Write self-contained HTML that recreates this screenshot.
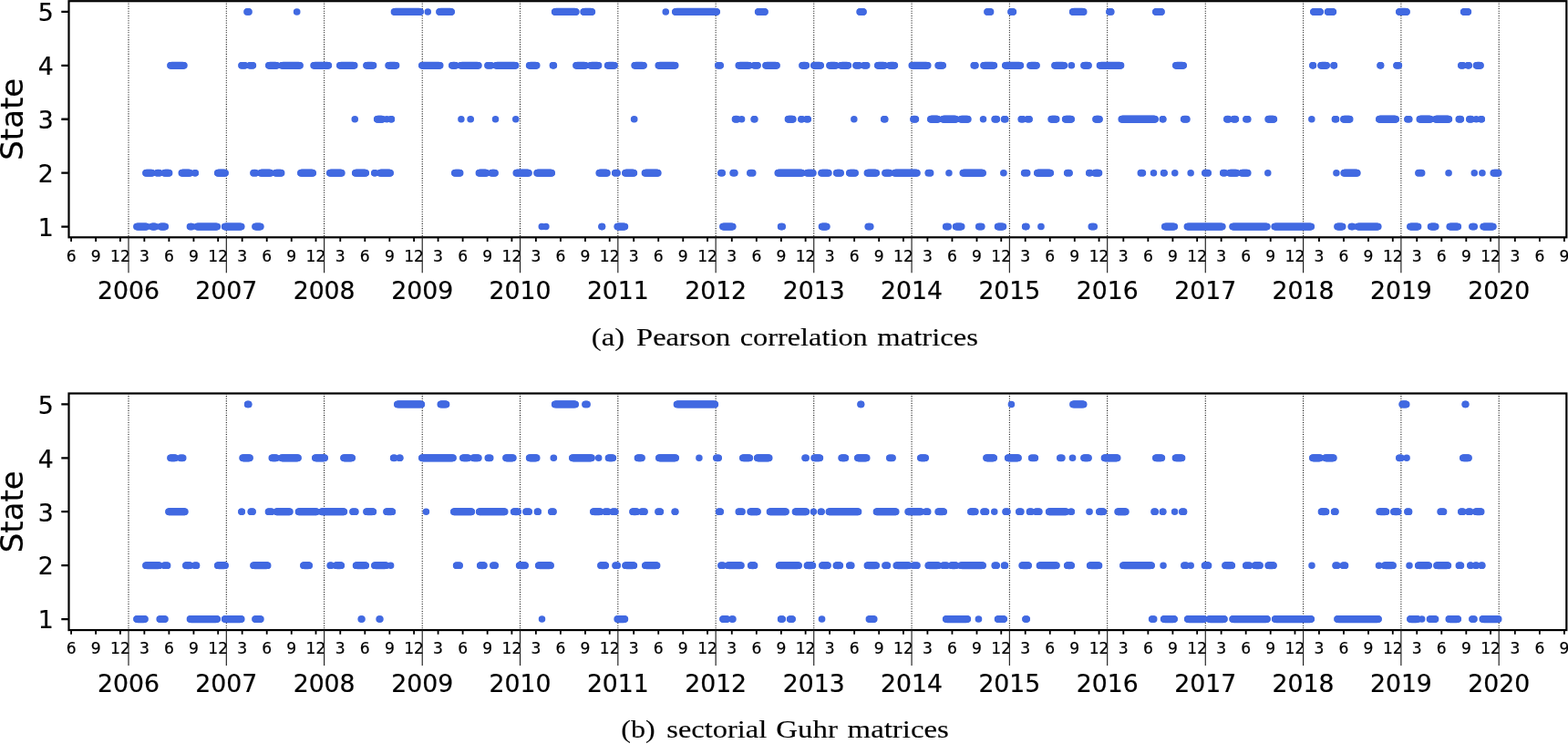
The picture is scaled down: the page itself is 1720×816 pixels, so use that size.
<!DOCTYPE html>
<html lang="en"><head><meta charset="utf-8"><title>State</title>
<style>
html,body{margin:0;padding:0;background:#fff;}
body{width:1720px;height:816px;overflow:hidden;}
svg{display:block;}
.s{font-family:"DejaVu Sans","Liberation Sans",sans-serif;fill:#000;stroke:#000;stroke-width:0.22px;stroke-linejoin:round;}
.c{font-family:"Liberation Serif","DejaVu Serif",serif;fill:#000;}
.yt{font-size:26.7px;text-anchor:end;}
.yr{font-size:26.7px;text-anchor:middle;}
.mo{font-size:17.1px;text-anchor:middle;}
.yl{font-size:34px;text-anchor:middle;}
.cap{font-size:28.2px;text-anchor:start;white-space:pre;stroke:#000;stroke-width:0.12px;}
.d{fill:none;stroke:#4169e1;stroke-linecap:round;}
.g{fill:none;stroke:#000;stroke-width:1.02;stroke-dasharray:1.05 1.57;}
.sp{fill:none;stroke:#000;stroke-width:2.2;}
.tk{fill:none;stroke:#000;stroke-width:2.3;}
.mt{fill:none;stroke:#000;stroke-width:1.8;}
.yk{fill:none;stroke:#1a1a1a;stroke-width:1.12;}
</style></head><body>
<svg width="1720" height="816" viewBox="0 0 1720 816">
<rect width="1720" height="816" fill="#fff"/>
<g>
<path class="g" d="M141 1.2V260.3M248.31 1.2V260.3M355.62 1.2V260.3M463.22 1.2V260.3M570.53 1.2V260.3M677.84 1.2V260.3M785.14 1.2V260.3M892.75 1.2V260.3M1000.06 1.2V260.3M1107.36 1.2V260.3M1214.67 1.2V260.3M1322.27 1.2V260.3M1429.58 1.2V260.3M1536.89 1.2V260.3M1644.2 1.2V260.3"/>
<path class="d" stroke-width="7.5" d="M271.07 12.95h1.86M325.57 12.95h0.2M432.4 12.95h28.83M469.27 12.95h0.01M481.9 12.95h13.37M608.57 12.95h23.33M640.1 12.95h9.33M730.23 12.95h0.04M740.73 12.95h45.54M831.57 12.95h7.53M943.07 12.95h4.03M1082.9 12.95h3.7M1108.9 12.95h2.53M1176.57 12.95h12.2M1216.9 12.95h1.87M1267.73 12.95h6.37M1440.73 12.95h7.5M1456.43 12.95h6M1534.73 12.95h8.37M1605.57 12.95h4.86"/>
<path class="d" stroke-width="7.7" d="M271.37 12.95h1.26M1217.2 12.95h1.27"/>
<path class="d" stroke-width="7.8" d="M832.17 12.95h6.33M943.67 12.95h2.83M1083.5 12.95h2.5M1109.5 12.95h1.33M1268.33 12.95h5.17M1441.33 12.95h6.3M1457.03 12.95h4.8M1606.17 12.95h3.66"/>
<path class="d" stroke-width="7.9" d="M433 12.95h27.63M482.5 12.95h12.17M609.17 12.95h22.13M640.7 12.95h8.13M741.33 12.95h44.34M1177.17 12.95h11M1535.33 12.95h7.17"/>
<path class="d" stroke-width="8.1" d="M833.17 12.95h4.33M944.67 12.95h0.83M1269.33 12.95h3.17M1442.33 12.95h4.3M1458.03 12.95h2.8M1607.17 12.95h1.66"/>
<path class="d" stroke-width="8.3" d="M434.1 12.95h25.43M483.6 12.95h9.97M610.27 12.95h19.93M641.8 12.95h5.93M742.43 12.95h42.14M1178.27 12.95h8.8M1536.43 12.95h4.97"/>
<path class="d" stroke-width="7.5" d="M186.9 71.86h15.03M264.9 71.86h3.73M274.03 71.86h3.4M294.73 71.86h8.9M309.03 71.86h20.07M344.07 71.86h16.36M372.73 71.86h16.04M401.9 71.86h7.7M426.07 71.86h8.53M462.73 71.86h20.04M495.73 71.86h4.24M505.37 71.86h19.56M534.9 71.86h3.73M544.03 71.86h21.74M580.57 71.86h8.2M606.4 71.86h1.03M631.9 71.86h10.4M647.7 71.86h8.9M666.57 71.86h7.53M696.1 71.86h10M722.23 71.86h18.54M787.73 71.86h2.54M810.23 71.86h11.74M827.37 71.86h3.73M839.9 71.86h12.2M879.9 71.86h4.53M892.73 71.86h7.54M909.9 71.86h7.07M922.37 71.86h8.06M938.9 71.86h3.4M947.7 71.86h3.07M962.7 71.86h7.6M975.7 71.86h5.7M1000.23 71.86h17.54M1029.07 71.86h5.2M1068.23 71.86h1.7M1078.9 71.86h11.53M1102.73 71.86h16.7M1129.9 71.86h7.2M1156.9 71.86h10.53M1175.23 71.86h0.2M1188.9 71.86h5.2M1206.4 71.86h23.2M1289.73 71.86h8.54M1439.9 71.86h0.53M1448.9 71.86h6.37M1463.07 71.86h0.36M1514.07 71.86h0.53M1531.9 71.86h2.53M1602.73 71.86h2.07M1610.2 71.86h1.03M1619.43 71.86h4.67"/>
<path class="d" stroke-width="7.6" d="M1440 71.86h0.33M1463.17 71.86h0.16M1514.17 71.86h0.33"/>
<path class="d" stroke-width="7.7" d="M606.7 71.86h0.43M1068.53 71.86h1.1M1610.5 71.86h0.43"/>
<path class="d" stroke-width="7.8" d="M265.5 71.86h2.53M274.63 71.86h2.2M402.5 71.86h6.5M496.33 71.86h3.04M535.5 71.86h2.53M667.17 71.86h6.33M788.33 71.86h1.34M827.97 71.86h2.53M880.5 71.86h3.33M893.33 71.86h6.34M910.5 71.86h5.87M939.5 71.86h2.2M948.3 71.86h1.87M963.3 71.86h6.4M976.3 71.86h4.5M1029.67 71.86h4M1130.5 71.86h6M1189.5 71.86h4M1449.5 71.86h5.17M1532.5 71.86h1.33M1603.33 71.86h0.87M1620.03 71.86h3.47"/>
<path class="d" stroke-width="7.9" d="M187.5 71.86h13.83M295.33 71.86h7.7M309.63 71.86h18.87M344.67 71.86h15.16M373.33 71.86h14.84M426.67 71.86h7.33M463.33 71.86h18.84M505.97 71.86h18.36M544.63 71.86h20.54M581.17 71.86h7M632.5 71.86h9.2M648.3 71.86h7.7M696.7 71.86h8.8M722.83 71.86h17.34M810.83 71.86h10.54M840.5 71.86h11M922.97 71.86h6.86M1000.83 71.86h16.34M1079.5 71.86h10.33M1103.33 71.86h15.5M1157.5 71.86h9.33M1207 71.86h22M1290.33 71.86h7.34"/>
<path class="d" stroke-width="8.1" d="M403.5 71.86h4.5M497.33 71.86h1.04M668.17 71.86h4.33M881.5 71.86h1.33M894.33 71.86h4.34M911.5 71.86h3.87M964.3 71.86h4.4M977.3 71.86h2.5M1030.67 71.86h2M1131.5 71.86h4M1190.5 71.86h2M1450.5 71.86h3.17M1621.03 71.86h1.47"/>
<path class="d" stroke-width="8.3" d="M188.6 71.86h11.63M296.43 71.86h5.5M310.73 71.86h16.67M345.77 71.86h12.96M374.43 71.86h12.64M427.77 71.86h5.13M464.43 71.86h16.64M507.07 71.86h16.16M545.73 71.86h18.34M582.27 71.86h4.8M633.6 71.86h7M649.4 71.86h5.5M697.8 71.86h6.6M723.93 71.86h15.14M811.93 71.86h8.34M841.6 71.86h8.8M924.07 71.86h4.66M1001.93 71.86h14.14M1080.6 71.86h8.13M1104.43 71.86h13.3M1158.6 71.86h7.13M1208.1 71.86h19.8M1291.43 71.86h5.14"/>
<path class="d" stroke-width="7.5" d="M389.23 130.77h0.04M413.6 130.77h5.9M424.25 130.77h0.01M429 130.77h0.4M505.92 130.77h0.01M516.07 130.77h0.2M543.5 130.77h0.01M565.73 130.77h0.04M695.57 130.77h0.2M806.4 130.77h2.23M813.57 130.77h0.01M827.23 130.77h0.54M864.4 130.77h5.53M878.9 130.77h0.57M884.87 130.77h1.4M936.83 130.77h0.01M969.73 130.77h1.04M1001.9 130.77h2.53M1020.73 130.77h8.24M1034.37 130.77h14.26M1054.03 130.77h7.9M1078.5 130.77h0.01M1091.07 130.77h2.36M1101.57 130.77h1.2M1120.23 130.77h1.74M1127.37 130.77h1.73M1153.07 130.77h5.7M1168.57 130.77h6.7M1201.9 130.77h4.2M1230.2 130.77h37M1275.4 130.77h0.4M1298.57 130.77h3.36M1345.73 130.77h2.07M1353.2 130.77h2.23M1366.9 130.77h1.87M1391.07 130.77h6.36M1438.83 130.77h0.01M1464.4 130.77h1.17M1473.77 130.77h7M1512.73 130.77h18.54M1543.9 130.77h1.87M1557.23 130.77h12.07M1574.7 130.77h14.73M1600.23 130.77h2.2M1611.73 130.77h2.24M1619.33 130.77h0.01M1624.7 130.77h0.57"/>
<path class="d" stroke-width="7.6" d="M429.1 130.77h0.2M827.33 130.77h0.34M879 130.77h0.37M1275.5 130.77h0.2M1624.8 130.77h0.37"/>
<path class="d" stroke-width="7.7" d="M885.17 130.77h0.8M970.03 130.77h0.44M1101.87 130.77h0.6M1120.53 130.77h1.14M1127.67 130.77h1.13M1367.2 130.77h1.27M1464.7 130.77h0.57M1544.2 130.77h1.27"/>
<path class="d" stroke-width="7.8" d="M414.2 130.77h4.7M807 130.77h1.03M865 130.77h4.33M1002.5 130.77h1.33M1054.63 130.77h6.7M1091.67 130.77h1.16M1153.67 130.77h4.5M1169.17 130.77h5.5M1202.5 130.77h3M1299.17 130.77h2.16M1346.33 130.77h0.87M1353.8 130.77h1.03M1391.67 130.77h5.16M1474.37 130.77h5.8M1600.83 130.77h1M1612.33 130.77h1.04"/>
<path class="d" stroke-width="7.9" d="M1021.33 130.77h7.04M1034.97 130.77h13.06M1230.8 130.77h35.8M1513.33 130.77h17.34M1557.83 130.77h10.87M1575.3 130.77h13.53"/>
<path class="d" stroke-width="8.1" d="M415.2 130.77h2.7M866 130.77h2.33M1055.63 130.77h4.7M1154.67 130.77h2.5M1170.17 130.77h3.5M1203.5 130.77h1M1392.67 130.77h3.16M1475.37 130.77h3.8"/>
<path class="d" stroke-width="8.3" d="M1022.43 130.77h4.84M1036.07 130.77h10.86M1231.9 130.77h33.6M1514.43 130.77h15.14M1558.93 130.77h8.67M1576.4 130.77h11.33"/>
<path class="d" stroke-width="7.5" d="M159.86 189.69h7.03M172.29 189.69h2.58M180.27 189.69h5.38M199.27 189.69h9.19M213.86 189.69h0.39M238.67 189.69h8.5M277.92 189.69h2.54M285.86 189.69h11.06M302.32 189.69h6.37M329.79 189.69h13.49M361.72 189.69h13.15M389.66 189.69h11.65M410.8 189.69h0.5M416.7 189.69h11.5M498.72 189.69h6M525.33 189.69h8.36M539.09 189.69h4.04M566.23 189.69h13.82M589.01 189.69h16.31M657.18 189.69h8.83M674.64 189.69h2.51M685.78 189.69h9.66M707.39 189.69h14.48M790.86 189.69h1.34M804.16 189.69h1.68M822.78 189.69h3.01M853.21 189.69h26.66M885.27 189.69h6.7M900.94 189.69h7.99M917.56 189.69h4.67M931.7 189.69h6.5M951.32 189.69h9.99M970.9 189.69h5.1M981.4 189.69h24.6M1018.15 189.69h2.51M1040.93 189.69h0.01M1056.23 189.69h21.96M1100.79 189.69h0.18M1123.57 189.69h3.17M1137.7 189.69h14.65M1170.63 189.69h2.51M1194.74 189.69h0.88M1201.02 189.69h4.54M1251.27 189.69h2.18M1265.48 189.69h0.01M1276.53 189.69h0.52M1288.76 189.69h0.01M1306.14 189.69h0.01M1321.76 189.69h3.51M1341.71 189.69h1.72M1348.83 189.69h7.9M1362.13 189.69h6.7M1390.77 189.69h0.01M1465.91 189.69h0.01M1474.11 189.69h14.78M1555.88 189.69h3.82M1589.02 189.69h0.1M1617.27 189.69h0.01M1625.88 189.69h0.1M1638.2 189.69h5.57"/>
<path class="d" stroke-width="7.6" d="M213.96 189.69h0.19M410.9 189.69h0.3M1276.63 189.69h0.32"/>
<path class="d" stroke-width="7.7" d="M791.16 189.69h0.74M804.46 189.69h1.08M1195.04 189.69h0.28M1342.01 189.69h1.12"/>
<path class="d" stroke-width="7.8" d="M160.46 189.69h5.83M172.89 189.69h1.38M180.87 189.69h4.18M278.52 189.69h1.34M302.92 189.69h5.17M499.32 189.69h4.8M539.69 189.69h2.84M675.24 189.69h1.31M823.38 189.69h1.81M885.87 189.69h5.5M901.54 189.69h6.79M918.16 189.69h3.47M932.3 189.69h5.3M971.5 189.69h3.9M1018.75 189.69h1.31M1124.17 189.69h1.97M1171.23 189.69h1.31M1201.62 189.69h3.34M1251.87 189.69h0.98M1322.36 189.69h2.31M1349.43 189.69h6.7M1362.73 189.69h5.5M1556.48 189.69h2.62M1638.8 189.69h4.37"/>
<path class="d" stroke-width="7.9" d="M199.87 189.69h7.99M239.27 189.69h7.3M286.46 189.69h9.86M330.39 189.69h12.29M362.32 189.69h11.95M390.26 189.69h10.45M417.3 189.69h10.3M525.93 189.69h7.16M566.83 189.69h12.62M589.61 189.69h15.11M657.78 189.69h7.63M686.38 189.69h8.46M707.99 189.69h13.28M853.81 189.69h25.46M951.92 189.69h8.79M982 189.69h23.4M1056.83 189.69h20.76M1138.3 189.69h13.45M1474.71 189.69h13.58"/>
<path class="d" stroke-width="8.1" d="M161.46 189.69h3.83M181.87 189.69h2.18M303.92 189.69h3.17M500.32 189.69h2.8M540.69 189.69h0.84M886.87 189.69h3.5M902.54 189.69h4.79M919.16 189.69h1.47M933.3 189.69h3.3M972.5 189.69h1.9M1202.62 189.69h1.34M1350.43 189.69h4.7M1363.73 189.69h3.5M1639.8 189.69h2.37"/>
<path class="d" stroke-width="8.3" d="M200.97 189.69h5.79M240.37 189.69h5.1M287.56 189.69h7.66M331.49 189.69h10.09M363.42 189.69h9.75M391.36 189.69h8.25M418.4 189.69h8.1M527.03 189.69h4.96M567.93 189.69h10.42M590.71 189.69h12.91M658.88 189.69h5.43M687.48 189.69h6.26M709.09 189.69h11.08M854.91 189.69h23.26M953.02 189.69h6.59M983.1 189.69h21.2M1057.93 189.69h18.56M1139.4 189.69h11.25M1475.81 189.69h11.38"/>
<path class="d" stroke-width="7.5" d="M149.88 248.6h11.19M166.47 248.6h4.08M175.95 248.6h5.37M208.41 248.6h2.05M215.86 248.6h22.46M246.52 248.6h18.28M279.91 248.6h6M594.27 248.6h0.01M598.89 248.6h0.01M660.01 248.6h0.52M677.14 248.6h8.33M792.85 248.6h10.99M856.54 248.6h1.68M901.43 248.6h5.51M952.15 248.6h2.67M1037.6 248.6h2.65M1048.45 248.6h6.3M1073.69 248.6h3.17M1094.47 248.6h6M1124.57 248.6h1.34M1141.86 248.6h0.18M1197.23 248.6h3.01M1277.7 248.6h10.65M1302.31 248.6h38.59M1352.02 248.6h37.9M1398.12 248.6h40.22M1466.92 248.6h5.84M1482.22 248.6h1.71M1489.33 248.6h22.5M1546.81 248.6h8.82M1569.48 248.6h5.34M1590.18 248.6h9.18M1614.83 248.6h2.43M1627.04 248.6h10.92"/>
<path class="d" stroke-width="7.6" d="M660.11 248.6h0.32"/>
<path class="d" stroke-width="7.7" d="M856.84 248.6h1.08M1124.87 248.6h0.74M1482.52 248.6h1.11"/>
<path class="d" stroke-width="7.8" d="M167.07 248.6h2.88M176.55 248.6h4.17M209.01 248.6h0.85M280.51 248.6h4.8M902.03 248.6h4.31M952.75 248.6h1.47M1038.2 248.6h1.45M1049.05 248.6h5.1M1074.29 248.6h1.97M1095.07 248.6h4.8M1197.83 248.6h1.81M1467.52 248.6h4.64M1570.08 248.6h4.14M1615.43 248.6h1.23"/>
<path class="d" stroke-width="7.9" d="M150.48 248.6h9.99M216.46 248.6h21.26M247.12 248.6h17.08M677.74 248.6h7.13M793.45 248.6h9.79M1278.3 248.6h9.45M1302.91 248.6h37.39M1352.62 248.6h36.7M1398.72 248.6h39.02M1489.93 248.6h21.3M1547.41 248.6h7.62M1590.78 248.6h7.98M1627.64 248.6h9.72"/>
<path class="d" stroke-width="8.1" d="M168.07 248.6h0.88M177.55 248.6h2.17M281.51 248.6h2.8M903.03 248.6h2.31M1050.05 248.6h3.1M1096.07 248.6h2.8M1468.52 248.6h2.64M1571.08 248.6h2.14"/>
<path class="d" stroke-width="8.3" d="M151.58 248.6h7.79M217.56 248.6h19.06M248.22 248.6h14.88M678.84 248.6h4.93M794.55 248.6h7.59M1279.4 248.6h7.25M1304.01 248.6h35.19M1353.72 248.6h34.5M1399.82 248.6h36.82M1491.03 248.6h19.1M1548.51 248.6h5.42M1591.88 248.6h5.78M1628.74 248.6h7.52"/>
<rect class="sp" x="75.5" y="1.2" width="1642.85" height="259.1"/>
<text class="s yt" x="58.65" y="258.9">1</text>
<text class="s yt" x="58.65" y="199.99">2</text>
<text class="s yt" x="58.65" y="141.07">3</text>
<text class="s yt" x="58.65" y="82.16">4</text>
<text class="s yt" x="58.65" y="23.25">5</text>
<path class="tk" d="M67.3 248.6H75.5M67.3 189.69H75.5M67.3 130.77H75.5M67.3 71.86H75.5M67.3 12.95H75.5"/>
<text class="s mo" x="78.08" y="286.5">6</text>
<text class="s mo" x="105.13" y="286.5">9</text>
<text class="s mo" x="131.89" y="286.5">12</text>
<text class="s mo" x="158.35" y="286.5">3</text>
<text class="s mo" x="185.39" y="286.5">6</text>
<text class="s mo" x="212.44" y="286.5">9</text>
<text class="s mo" x="239.19" y="286.5">12</text>
<text class="s mo" x="265.65" y="286.5">3</text>
<text class="s mo" x="292.7" y="286.5">6</text>
<text class="s mo" x="319.75" y="286.5">9</text>
<text class="s mo" x="346.5" y="286.5">12</text>
<text class="s mo" x="373.26" y="286.5">3</text>
<text class="s mo" x="400.3" y="286.5">6</text>
<text class="s mo" x="427.35" y="286.5">9</text>
<text class="s mo" x="454.11" y="286.5">12</text>
<text class="s mo" x="480.57" y="286.5">3</text>
<text class="s mo" x="507.61" y="286.5">6</text>
<text class="s mo" x="534.66" y="286.5">9</text>
<text class="s mo" x="561.41" y="286.5">12</text>
<text class="s mo" x="587.87" y="286.5">3</text>
<text class="s mo" x="614.92" y="286.5">6</text>
<text class="s mo" x="641.97" y="286.5">9</text>
<text class="s mo" x="668.72" y="286.5">12</text>
<text class="s mo" x="695.18" y="286.5">3</text>
<text class="s mo" x="722.23" y="286.5">6</text>
<text class="s mo" x="749.28" y="286.5">9</text>
<text class="s mo" x="776.03" y="286.5">12</text>
<text class="s mo" x="802.78" y="286.5">3</text>
<text class="s mo" x="829.83" y="286.5">6</text>
<text class="s mo" x="856.88" y="286.5">9</text>
<text class="s mo" x="883.63" y="286.5">12</text>
<text class="s mo" x="910.09" y="286.5">3</text>
<text class="s mo" x="937.14" y="286.5">6</text>
<text class="s mo" x="964.19" y="286.5">9</text>
<text class="s mo" x="990.94" y="286.5">12</text>
<text class="s mo" x="1017.4" y="286.5">3</text>
<text class="s mo" x="1044.45" y="286.5">6</text>
<text class="s mo" x="1071.5" y="286.5">9</text>
<text class="s mo" x="1098.25" y="286.5">12</text>
<text class="s mo" x="1124.71" y="286.5">3</text>
<text class="s mo" x="1151.76" y="286.5">6</text>
<text class="s mo" x="1178.8" y="286.5">9</text>
<text class="s mo" x="1205.56" y="286.5">12</text>
<text class="s mo" x="1232.31" y="286.5">3</text>
<text class="s mo" x="1259.36" y="286.5">6</text>
<text class="s mo" x="1286.41" y="286.5">9</text>
<text class="s mo" x="1313.16" y="286.5">12</text>
<text class="s mo" x="1339.62" y="286.5">3</text>
<text class="s mo" x="1366.67" y="286.5">6</text>
<text class="s mo" x="1393.72" y="286.5">9</text>
<text class="s mo" x="1420.47" y="286.5">12</text>
<text class="s mo" x="1446.93" y="286.5">3</text>
<text class="s mo" x="1473.98" y="286.5">6</text>
<text class="s mo" x="1501.02" y="286.5">9</text>
<text class="s mo" x="1527.78" y="286.5">12</text>
<text class="s mo" x="1554.24" y="286.5">3</text>
<text class="s mo" x="1581.28" y="286.5">6</text>
<text class="s mo" x="1608.33" y="286.5">9</text>
<text class="s mo" x="1635.09" y="286.5">12</text>
<text class="s mo" x="1661.84" y="286.5">3</text>
<text class="s mo" x="1688.89" y="286.5">6</text>
<text class="s mo" x="1715.93" y="286.5">9</text>
<path class="mt" d="M78.08 260.3V265.1M105.13 260.3V265.1M131.89 260.3V265.1M158.35 260.3V265.1M185.39 260.3V265.1M212.44 260.3V265.1M239.19 260.3V265.1M265.65 260.3V265.1M292.7 260.3V265.1M319.75 260.3V265.1M346.5 260.3V265.1M373.26 260.3V265.1M400.3 260.3V265.1M427.35 260.3V265.1M454.11 260.3V265.1M480.57 260.3V265.1M507.61 260.3V265.1M534.66 260.3V265.1M561.41 260.3V265.1M587.87 260.3V265.1M614.92 260.3V265.1M641.97 260.3V265.1M668.72 260.3V265.1M695.18 260.3V265.1M722.23 260.3V265.1M749.28 260.3V265.1M776.03 260.3V265.1M802.78 260.3V265.1M829.83 260.3V265.1M856.88 260.3V265.1M883.63 260.3V265.1M910.09 260.3V265.1M937.14 260.3V265.1M964.19 260.3V265.1M990.94 260.3V265.1M1017.4 260.3V265.1M1044.45 260.3V265.1M1071.5 260.3V265.1M1098.25 260.3V265.1M1124.71 260.3V265.1M1151.76 260.3V265.1M1178.8 260.3V265.1M1205.56 260.3V265.1M1232.31 260.3V265.1M1259.36 260.3V265.1M1286.41 260.3V265.1M1313.16 260.3V265.1M1339.62 260.3V265.1M1366.67 260.3V265.1M1393.72 260.3V265.1M1420.47 260.3V265.1M1446.93 260.3V265.1M1473.98 260.3V265.1M1501.02 260.3V265.1M1527.78 260.3V265.1M1554.24 260.3V265.1M1581.28 260.3V265.1M1608.33 260.3V265.1M1635.09 260.3V265.1M1661.84 260.3V265.1M1688.89 260.3V265.1M1715.93 260.3V265.1"/>
<text class="s yr" x="141" y="328.2">2006</text>
<text class="s yr" x="248.31" y="328.2">2007</text>
<text class="s yr" x="355.62" y="328.2">2008</text>
<text class="s yr" x="463.22" y="328.2">2009</text>
<text class="s yr" x="570.53" y="328.2">2010</text>
<text class="s yr" x="677.84" y="328.2">2011</text>
<text class="s yr" x="785.14" y="328.2">2012</text>
<text class="s yr" x="892.75" y="328.2">2013</text>
<text class="s yr" x="1000.06" y="328.2">2014</text>
<text class="s yr" x="1107.36" y="328.2">2015</text>
<text class="s yr" x="1214.67" y="328.2">2016</text>
<text class="s yr" x="1322.27" y="328.2">2017</text>
<text class="s yr" x="1429.58" y="328.2">2018</text>
<text class="s yr" x="1536.89" y="328.2">2019</text>
<text class="s yr" x="1644.2" y="328.2">2020</text>
<path class="yk" d="M141 260.3V299.3M248.31 260.3V299.3M355.62 260.3V299.3M463.22 260.3V299.3M570.53 260.3V299.3M677.84 260.3V299.3M785.14 260.3V299.3M892.75 260.3V299.3M1000.06 260.3V299.3M1107.36 260.3V299.3M1214.67 260.3V299.3M1322.27 260.3V299.3M1429.58 260.3V299.3M1536.89 260.3V299.3M1644.2 260.3V299.3"/>
<text class="s yl" transform="translate(25.4,130.78) rotate(-90)">State</text>
</g>
<text class="c cap" y="378.5"><tspan x="648.8" textLength="36.4" lengthAdjust="spacingAndGlyphs">(a)</tspan> <tspan x="698" textLength="103.3" lengthAdjust="spacingAndGlyphs">Pearson</tspan> <tspan x="811.7" textLength="140.1" lengthAdjust="spacingAndGlyphs">correlation</tspan> <tspan x="962.3" textLength="110.6" lengthAdjust="spacingAndGlyphs">matrices</tspan></text>
<g>
<path class="g" d="M141 431.5V691.05M248.31 431.5V691.05M355.62 431.5V691.05M463.22 431.5V691.05M570.53 431.5V691.05M677.84 431.5V691.05M785.14 431.5V691.05M892.75 431.5V691.05M1000.06 431.5V691.05M1107.36 431.5V691.05M1214.67 431.5V691.05M1322.27 431.5V691.05M1429.58 431.5V691.05M1536.89 431.5V691.05M1644.2 431.5V691.05"/>
<path class="d" stroke-width="7.5" d="M271.57 443.4h1.2M435.73 443.4h26.7M483.23 443.4h6.37M608.57 443.4h22.7M641.9 443.4h2.2M742.4 443.4h42.03M944.07 443.4h0.53M1109.4 443.4h0.03M1176.9 443.4h11.87M1538.07 443.4h4.7M1607.23 443.4h0.54"/>
<path class="d" stroke-width="7.6" d="M944.17 443.4h0.33M1607.33 443.4h0.34"/>
<path class="d" stroke-width="7.7" d="M271.87 443.4h0.6"/>
<path class="d" stroke-width="7.8" d="M483.83 443.4h5.17M642.5 443.4h1M1538.67 443.4h3.5"/>
<path class="d" stroke-width="7.9" d="M436.33 443.4h25.5M609.17 443.4h21.5M743 443.4h40.83M1177.5 443.4h10.67"/>
<path class="d" stroke-width="8.1" d="M484.83 443.4h3.17M1539.67 443.4h1.5"/>
<path class="d" stroke-width="8.3" d="M437.43 443.4h23.3M610.27 443.4h19.3M744.1 443.4h38.63M1178.6 443.4h8.47"/>
<path class="d" stroke-width="7.5" d="M186.9 502.31h5.57M197.87 502.31h2.9M266.07 502.31h8.03M298.23 502.31h5.07M308.7 502.31h18.4M345.73 502.31h10.54M376.9 502.31h9.37M431.57 502.31h1.23M438.2 502.31h0.57M462.73 502.31h34.37M507.73 502.31h5.9M519.03 502.31h5.9M535.23 502.31h2.54M554.9 502.31h8.03M580.57 502.31h8.2M607.23 502.31h0.2M627.73 502.31h21.34M656.68 502.31h0.01M667.4 502.31h5.03M699.4 502.31h4.7M722.73 502.31h18.54M766.9 502.31h0.03M785.73 502.31h2.54M814.73 502.31h7.67M830.6 502.31h13.17M883.07 502.31h1.03M893.07 502.31h6.36M923.07 502.31h4.36M940.73 502.31h10.04M975.73 502.31h3.37M1009.73 502.31h5.54M1081.9 502.31h8.37M1105.57 502.31h11.53M1131.57 502.31h3.86M1162.73 502.31h2.2M1176.4 502.31h0.2M1188.9 502.31h5.2M1211.4 502.31h14.37M1267.73 502.31h6.7M1289.4 502.31h7.2M1439.73 502.31h8.57M1453.7 502.31h9.23M1534.73 502.31h2.27M1543 502.31h0.1M1604.73 502.31h6.37"/>
<path class="d" stroke-width="7.6" d="M438.3 502.31h0.37"/>
<path class="d" stroke-width="7.7" d="M431.87 502.31h0.63M883.37 502.31h0.43"/>
<path class="d" stroke-width="7.8" d="M187.5 502.31h4.37M198.47 502.31h1.7M298.83 502.31h3.87M508.33 502.31h4.7M519.63 502.31h4.7M535.83 502.31h1.34M668 502.31h3.83M700 502.31h3.5M786.33 502.31h1.34M815.33 502.31h6.47M893.67 502.31h5.16M923.67 502.31h3.16M976.33 502.31h2.17M1010.33 502.31h4.34M1132.17 502.31h2.66M1163.33 502.31h1M1189.5 502.31h4M1268.33 502.31h5.5M1290 502.31h6M1535.33 502.31h1.07M1605.33 502.31h5.17"/>
<path class="d" stroke-width="7.9" d="M266.67 502.31h6.83M309.3 502.31h17.2M346.33 502.31h9.34M377.5 502.31h8.17M463.33 502.31h33.17M555.5 502.31h6.83M581.17 502.31h7M628.33 502.31h20.14M723.33 502.31h17.34M831.2 502.31h11.97M941.33 502.31h8.84M1082.5 502.31h7.17M1106.17 502.31h10.33M1212 502.31h13.17M1440.33 502.31h7.37M1454.3 502.31h8.03"/>
<path class="d" stroke-width="8.1" d="M188.5 502.31h2.37M299.83 502.31h1.87M509.33 502.31h2.7M520.63 502.31h2.7M669 502.31h1.83M701 502.31h1.5M816.33 502.31h4.47M894.67 502.31h3.16M924.67 502.31h1.16M1011.33 502.31h2.34M1190.5 502.31h2M1269.33 502.31h3.5M1291 502.31h4M1606.33 502.31h3.17"/>
<path class="d" stroke-width="8.3" d="M267.77 502.31h4.63M310.4 502.31h15M347.43 502.31h7.14M378.6 502.31h5.97M464.43 502.31h30.97M556.6 502.31h4.63M582.27 502.31h4.8M629.43 502.31h17.94M724.43 502.31h15.14M832.3 502.31h9.77M942.43 502.31h6.64M1083.6 502.31h4.97M1107.27 502.31h8.13M1213.1 502.31h10.97M1441.43 502.31h5.17M1455.4 502.31h5.83"/>
<path class="d" stroke-width="7.5" d="M184.9 561.22h18.03M264.9 561.22h0.37M275.23 561.22h1.87M294.4 561.22h3.4M303.2 561.22h14.73M327.4 561.22h19.9M352.7 561.22h24.73M386.9 561.22h3.03M401.9 561.22h7.53M423.9 561.22h6.53M467.4 561.22h0.03M497.73 561.22h19.67M525.6 561.22h28.17M563.57 561.22h4.7M576.9 561.22h3.37M589.4 561.22h0.87M604.73 561.22h2.37M650.73 561.22h7.9M664.03 561.22h2.94M672.37 561.22h2.56M693.9 561.22h4.7M704 561.22h3.1M721.9 561.22h2.53M740.23 561.22h0.54M788.57 561.22h1.7M810.23 561.22h3.87M823.07 561.22h8.03M844.4 561.22h17.7M872.4 561.22h12M892.42 561.22h0.01M900.43 561.22h0.64M909.27 561.22h32.33M961.4 561.22h21.4M996.07 561.22h14.23M1015.7 561.22h2.07M1029.07 561.22h6.2M1064.73 561.22h5.2M1078.9 561.22h2.7M1090.73 561.22h0.04M1103.07 561.22h1.86M1117.73 561.22h2.2M1129.4 561.22h1.73M1136.53 561.22h3.4M1150.57 561.22h18.9M1174.87 561.22h0.4M1194.9 561.22h0.2M1205.73 561.22h4.7M1226.07 561.22h8.86M1266.07 561.22h1.16M1275.43 561.22h0.34M1288.57 561.22h0.01M1296.77 561.22h1.83M1449.4 561.22h5.2M1463.57 561.22h1.36M1513.07 561.22h7.5M1528.77 561.22h5M1543.9 561.22h1.7M1580.07 561.22h3.53M1602.73 561.22h2.1M1610.83 561.22h2M1618.83 561.22h5.94"/>
<path class="d" stroke-width="7.6" d="M265 561.22h0.17M740.33 561.22h0.34M900.53 561.22h0.44M1174.97 561.22h0.2M1275.53 561.22h0.14"/>
<path class="d" stroke-width="7.7" d="M275.53 561.22h1.27M589.7 561.22h0.27M788.87 561.22h1.1M1103.37 561.22h1.26M1129.7 561.22h1.13M1266.37 561.22h0.56M1297.07 561.22h1.23M1463.87 561.22h0.76M1544.2 561.22h1.1"/>
<path class="d" stroke-width="7.8" d="M295 561.22h2.2M387.5 561.22h1.83M402.5 561.22h6.33M424.5 561.22h5.33M564.17 561.22h3.5M577.5 561.22h2.17M605.33 561.22h1.17M651.33 561.22h6.7M664.63 561.22h1.74M672.97 561.22h1.36M694.5 561.22h3.5M704.6 561.22h1.9M722.5 561.22h1.33M810.83 561.22h2.67M1016.3 561.22h0.87M1029.67 561.22h5M1065.33 561.22h4M1079.5 561.22h1.5M1118.33 561.22h1M1137.13 561.22h2.2M1206.33 561.22h3.5M1450 561.22h4M1513.67 561.22h6.3M1529.37 561.22h3.8M1580.67 561.22h2.33M1603.33 561.22h0.9M1611.43 561.22h0.8M1619.43 561.22h4.74"/>
<path class="d" stroke-width="7.9" d="M185.5 561.22h16.83M303.8 561.22h13.53M328 561.22h18.7M353.3 561.22h23.53M498.33 561.22h18.47M526.2 561.22h26.97M823.67 561.22h6.83M845 561.22h16.5M873 561.22h10.8M909.87 561.22h31.13M962 561.22h20.2M996.67 561.22h13.03M1151.17 561.22h17.7M1226.67 561.22h7.66"/>
<path class="d" stroke-width="8.1" d="M403.5 561.22h4.33M425.5 561.22h3.33M565.17 561.22h1.5M652.33 561.22h4.7M695.5 561.22h1.5M1030.67 561.22h3M1066.33 561.22h2M1207.33 561.22h1.5M1451 561.22h2M1514.67 561.22h4.3M1530.37 561.22h1.8M1620.43 561.22h2.74"/>
<path class="d" stroke-width="8.3" d="M186.6 561.22h14.63M304.9 561.22h11.33M329.1 561.22h16.5M354.4 561.22h21.33M499.43 561.22h16.27M527.3 561.22h24.77M824.77 561.22h4.63M846.1 561.22h14.3M874.1 561.22h8.6M910.97 561.22h28.93M963.1 561.22h18M997.77 561.22h10.83M1152.27 561.22h15.5M1227.77 561.22h5.46"/>
<path class="d" stroke-width="7.5" d="M159.86 620.14h15.01M180.27 620.14h3.38M203.76 620.14h4.7M213.86 620.14h1.72M238.67 620.14h8.5M277.92 620.14h15.81M332.79 620.14h6.5M362.22 620.14h0.88M368.5 620.14h5.87M390.49 620.14h10.82M410.8 620.14h12.8M428.6 620.14h0.01M500.55 620.14h3.67M526.66 620.14h4.33M540.79 620.14h2.51M569.56 620.14h6.66M590.67 620.14h13.49M658.85 620.14h5.5M674.98 620.14h2.34M685.95 620.14h9.49M707.72 620.14h12.98M790.86 620.14h2.21M798.47 620.14h14.52M823.62 620.14h4M854.54 620.14h21.64M885.31 620.14h6.16M901.77 620.14h6.33M917.23 620.14h4.17M931.7 620.14h2.17M951.32 620.14h9.99M970.94 620.14h2.51M983.23 620.14h13.69M1002.32 620.14h3.71M1018.15 620.14h11.19M1034.74 620.14h3.41M1043.55 620.14h5.08M1054.03 620.14h24.16M1091.15 620.14h2.14M1101.49 620.14h0.98M1121.08 620.14h7.16M1140.36 620.14h18.64M1170.63 620.14h4.67M1195.57 620.14h9.99M1231.8 620.14h31.4M1276.03 620.14h0.02M1298.81 620.14h2.22M1306.2 620.14h0.01M1321.43 620.14h4.17M1343.88 620.14h7.49M1366.66 620.14h3.9M1376.56 620.14h5.57M1391.1 620.14h6M1438.99 620.14h0.01M1465.09 620.14h1.62M1473.31 620.14h2.27M1512.48 620.14h0.25M1518.73 620.14h9.4M1545.99 620.14h0.01M1555.64 620.14h11.62M1575.88 620.14h12.55M1600.3 620.14h2.2M1612.85 620.14h0.33M1618.68 620.14h0.75M1625.23 620.14h0.52"/>
<path class="d" stroke-width="7.6" d="M1612.95 620.14h0.13M1618.78 620.14h0.55M1625.33 620.14h0.32"/>
<path class="d" stroke-width="7.7" d="M214.16 620.14h1.12M362.52 620.14h0.28M1101.79 620.14h0.38M1465.39 620.14h1.02"/>
<path class="d" stroke-width="7.8" d="M180.87 620.14h2.18M204.36 620.14h3.5M333.39 620.14h5.3M369.1 620.14h4.67M501.15 620.14h2.47M527.26 620.14h3.13M541.39 620.14h1.31M570.16 620.14h5.46M659.45 620.14h4.3M675.58 620.14h1.14M791.46 620.14h1.01M824.22 620.14h2.8M885.91 620.14h4.96M902.37 620.14h5.13M917.83 620.14h2.97M932.3 620.14h0.97M971.54 620.14h1.31M1002.92 620.14h2.51M1035.34 620.14h2.21M1044.15 620.14h3.88M1091.75 620.14h0.94M1121.68 620.14h5.96M1171.23 620.14h3.47M1299.41 620.14h1.02M1322.03 620.14h2.97M1344.48 620.14h6.29M1367.26 620.14h2.7M1377.16 620.14h4.37M1391.7 620.14h4.8M1473.91 620.14h1.07M1600.9 620.14h1"/>
<path class="d" stroke-width="7.9" d="M160.46 620.14h13.81M239.27 620.14h7.3M278.52 620.14h14.61M391.09 620.14h9.62M411.4 620.14h11.6M591.27 620.14h12.29M686.55 620.14h8.29M708.32 620.14h11.78M799.07 620.14h13.32M855.14 620.14h20.44M951.92 620.14h8.79M983.83 620.14h12.49M1018.75 620.14h9.99M1054.63 620.14h22.96M1140.96 620.14h17.44M1196.17 620.14h8.79M1232.4 620.14h30.2M1519.33 620.14h8.2M1556.24 620.14h10.42M1576.48 620.14h11.35"/>
<path class="d" stroke-width="8.1" d="M205.36 620.14h1.5M334.39 620.14h3.3M370.1 620.14h2.67M528.26 620.14h1.13M571.16 620.14h3.46M660.45 620.14h2.3M825.22 620.14h0.8M886.91 620.14h2.96M903.37 620.14h3.13M918.83 620.14h0.97M1045.15 620.14h1.88M1122.68 620.14h3.96M1172.23 620.14h1.47M1323.03 620.14h0.97M1345.48 620.14h4.29M1378.16 620.14h2.37M1392.7 620.14h2.8"/>
<path class="d" stroke-width="8.3" d="M161.56 620.14h11.61M240.37 620.14h5.1M279.62 620.14h12.41M392.19 620.14h7.42M412.5 620.14h9.4M592.37 620.14h10.09M687.65 620.14h6.09M709.42 620.14h9.58M800.17 620.14h11.12M856.24 620.14h18.24M953.02 620.14h6.59M984.93 620.14h10.29M1019.85 620.14h7.79M1055.73 620.14h20.76M1142.06 620.14h15.24M1197.27 620.14h6.59M1233.5 620.14h28M1520.43 620.14h6M1557.34 620.14h8.22M1577.58 620.14h9.15"/>
<path class="d" stroke-width="7.5" d="M149.88 679.05h9.16M175.16 679.05h5.83M208.41 679.05h29.91M246.52 679.05h18.28M279.91 679.05h6M396.31 679.05h0.51M416.26 679.05h0.51M594.5 679.05h0.01M677.14 679.05h8.33M792.85 679.05h4.71M802.96 679.05h0.88M856.54 679.05h1.68M866.52 679.05h2.67M901.43 679.05h0.19M953.31 679.05h5.51M1037.6 679.05h23.8M1073.35 679.05h0.18M1094.47 679.05h6.83M1124.9 679.05h1.34M1263.56 679.05h2.18M1276.53 679.05h11.66M1302.64 679.05h18.34M1326.38 679.05h16.68M1352.02 679.05h38.1M1398.58 679.05h39.76M1466.92 679.05h45.24M1546.81 679.05h8.28M1559.69 679.05h0.01M1568.43 679.05h6.16M1589.25 679.05h10.11M1614.83 679.05h2.2M1626.23 679.05h17.54"/>
<path class="d" stroke-width="7.6" d="M396.41 679.05h0.31M416.36 679.05h0.31"/>
<path class="d" stroke-width="7.7" d="M803.26 679.05h0.28M856.84 679.05h1.08M1125.2 679.05h0.74"/>
<path class="d" stroke-width="7.8" d="M175.76 679.05h4.63M280.51 679.05h4.8M793.45 679.05h3.51M867.12 679.05h1.47M953.91 679.05h4.31M1095.07 679.05h5.63M1264.16 679.05h0.98M1569.03 679.05h4.96M1615.43 679.05h1"/>
<path class="d" stroke-width="7.9" d="M150.48 679.05h7.96M209.01 679.05h28.71M247.12 679.05h17.08M677.74 679.05h7.13M1038.2 679.05h22.6M1277.13 679.05h10.46M1303.24 679.05h17.14M1326.98 679.05h15.48M1352.62 679.05h36.9M1399.18 679.05h38.56M1467.52 679.05h44.04M1547.41 679.05h7.08M1589.85 679.05h8.91M1626.83 679.05h16.34"/>
<path class="d" stroke-width="8.1" d="M176.76 679.05h2.63M281.51 679.05h2.8M794.45 679.05h1.51M954.91 679.05h2.31M1096.07 679.05h3.63M1570.03 679.05h2.96"/>
<path class="d" stroke-width="8.3" d="M151.58 679.05h5.76M210.11 679.05h26.51M248.22 679.05h14.88M678.84 679.05h4.93M1039.3 679.05h20.4M1278.23 679.05h8.26M1304.34 679.05h14.94M1328.08 679.05h13.28M1353.72 679.05h34.7M1400.28 679.05h36.36M1468.62 679.05h41.84M1548.51 679.05h4.88M1590.95 679.05h6.71M1627.93 679.05h14.14"/>
<rect class="sp" x="75.5" y="431.5" width="1642.85" height="259.55"/>
<text class="s yt" x="58.65" y="689.35">1</text>
<text class="s yt" x="58.65" y="630.44">2</text>
<text class="s yt" x="58.65" y="571.52">3</text>
<text class="s yt" x="58.65" y="512.61">4</text>
<text class="s yt" x="58.65" y="453.7">5</text>
<path class="tk" d="M67.3 679.05H75.5M67.3 620.14H75.5M67.3 561.22H75.5M67.3 502.31H75.5M67.3 443.4H75.5"/>
<text class="s mo" x="78.08" y="717.25">6</text>
<text class="s mo" x="105.13" y="717.25">9</text>
<text class="s mo" x="131.89" y="717.25">12</text>
<text class="s mo" x="158.35" y="717.25">3</text>
<text class="s mo" x="185.39" y="717.25">6</text>
<text class="s mo" x="212.44" y="717.25">9</text>
<text class="s mo" x="239.19" y="717.25">12</text>
<text class="s mo" x="265.65" y="717.25">3</text>
<text class="s mo" x="292.7" y="717.25">6</text>
<text class="s mo" x="319.75" y="717.25">9</text>
<text class="s mo" x="346.5" y="717.25">12</text>
<text class="s mo" x="373.26" y="717.25">3</text>
<text class="s mo" x="400.3" y="717.25">6</text>
<text class="s mo" x="427.35" y="717.25">9</text>
<text class="s mo" x="454.11" y="717.25">12</text>
<text class="s mo" x="480.57" y="717.25">3</text>
<text class="s mo" x="507.61" y="717.25">6</text>
<text class="s mo" x="534.66" y="717.25">9</text>
<text class="s mo" x="561.41" y="717.25">12</text>
<text class="s mo" x="587.87" y="717.25">3</text>
<text class="s mo" x="614.92" y="717.25">6</text>
<text class="s mo" x="641.97" y="717.25">9</text>
<text class="s mo" x="668.72" y="717.25">12</text>
<text class="s mo" x="695.18" y="717.25">3</text>
<text class="s mo" x="722.23" y="717.25">6</text>
<text class="s mo" x="749.28" y="717.25">9</text>
<text class="s mo" x="776.03" y="717.25">12</text>
<text class="s mo" x="802.78" y="717.25">3</text>
<text class="s mo" x="829.83" y="717.25">6</text>
<text class="s mo" x="856.88" y="717.25">9</text>
<text class="s mo" x="883.63" y="717.25">12</text>
<text class="s mo" x="910.09" y="717.25">3</text>
<text class="s mo" x="937.14" y="717.25">6</text>
<text class="s mo" x="964.19" y="717.25">9</text>
<text class="s mo" x="990.94" y="717.25">12</text>
<text class="s mo" x="1017.4" y="717.25">3</text>
<text class="s mo" x="1044.45" y="717.25">6</text>
<text class="s mo" x="1071.5" y="717.25">9</text>
<text class="s mo" x="1098.25" y="717.25">12</text>
<text class="s mo" x="1124.71" y="717.25">3</text>
<text class="s mo" x="1151.76" y="717.25">6</text>
<text class="s mo" x="1178.8" y="717.25">9</text>
<text class="s mo" x="1205.56" y="717.25">12</text>
<text class="s mo" x="1232.31" y="717.25">3</text>
<text class="s mo" x="1259.36" y="717.25">6</text>
<text class="s mo" x="1286.41" y="717.25">9</text>
<text class="s mo" x="1313.16" y="717.25">12</text>
<text class="s mo" x="1339.62" y="717.25">3</text>
<text class="s mo" x="1366.67" y="717.25">6</text>
<text class="s mo" x="1393.72" y="717.25">9</text>
<text class="s mo" x="1420.47" y="717.25">12</text>
<text class="s mo" x="1446.93" y="717.25">3</text>
<text class="s mo" x="1473.98" y="717.25">6</text>
<text class="s mo" x="1501.02" y="717.25">9</text>
<text class="s mo" x="1527.78" y="717.25">12</text>
<text class="s mo" x="1554.24" y="717.25">3</text>
<text class="s mo" x="1581.28" y="717.25">6</text>
<text class="s mo" x="1608.33" y="717.25">9</text>
<text class="s mo" x="1635.09" y="717.25">12</text>
<text class="s mo" x="1661.84" y="717.25">3</text>
<text class="s mo" x="1688.89" y="717.25">6</text>
<text class="s mo" x="1715.93" y="717.25">9</text>
<path class="mt" d="M78.08 691.05V695.85M105.13 691.05V695.85M131.89 691.05V695.85M158.35 691.05V695.85M185.39 691.05V695.85M212.44 691.05V695.85M239.19 691.05V695.85M265.65 691.05V695.85M292.7 691.05V695.85M319.75 691.05V695.85M346.5 691.05V695.85M373.26 691.05V695.85M400.3 691.05V695.85M427.35 691.05V695.85M454.11 691.05V695.85M480.57 691.05V695.85M507.61 691.05V695.85M534.66 691.05V695.85M561.41 691.05V695.85M587.87 691.05V695.85M614.92 691.05V695.85M641.97 691.05V695.85M668.72 691.05V695.85M695.18 691.05V695.85M722.23 691.05V695.85M749.28 691.05V695.85M776.03 691.05V695.85M802.78 691.05V695.85M829.83 691.05V695.85M856.88 691.05V695.85M883.63 691.05V695.85M910.09 691.05V695.85M937.14 691.05V695.85M964.19 691.05V695.85M990.94 691.05V695.85M1017.4 691.05V695.85M1044.45 691.05V695.85M1071.5 691.05V695.85M1098.25 691.05V695.85M1124.71 691.05V695.85M1151.76 691.05V695.85M1178.8 691.05V695.85M1205.56 691.05V695.85M1232.31 691.05V695.85M1259.36 691.05V695.85M1286.41 691.05V695.85M1313.16 691.05V695.85M1339.62 691.05V695.85M1366.67 691.05V695.85M1393.72 691.05V695.85M1420.47 691.05V695.85M1446.93 691.05V695.85M1473.98 691.05V695.85M1501.02 691.05V695.85M1527.78 691.05V695.85M1554.24 691.05V695.85M1581.28 691.05V695.85M1608.33 691.05V695.85M1635.09 691.05V695.85M1661.84 691.05V695.85M1688.89 691.05V695.85M1715.93 691.05V695.85"/>
<text class="s yr" x="141" y="758.95">2006</text>
<text class="s yr" x="248.31" y="758.95">2007</text>
<text class="s yr" x="355.62" y="758.95">2008</text>
<text class="s yr" x="463.22" y="758.95">2009</text>
<text class="s yr" x="570.53" y="758.95">2010</text>
<text class="s yr" x="677.84" y="758.95">2011</text>
<text class="s yr" x="785.14" y="758.95">2012</text>
<text class="s yr" x="892.75" y="758.95">2013</text>
<text class="s yr" x="1000.06" y="758.95">2014</text>
<text class="s yr" x="1107.36" y="758.95">2015</text>
<text class="s yr" x="1214.67" y="758.95">2016</text>
<text class="s yr" x="1322.27" y="758.95">2017</text>
<text class="s yr" x="1429.58" y="758.95">2018</text>
<text class="s yr" x="1536.89" y="758.95">2019</text>
<text class="s yr" x="1644.2" y="758.95">2020</text>
<path class="yk" d="M141 691.05V730.05M248.31 691.05V730.05M355.62 691.05V730.05M463.22 691.05V730.05M570.53 691.05V730.05M677.84 691.05V730.05M785.14 691.05V730.05M892.75 691.05V730.05M1000.06 691.05V730.05M1107.36 691.05V730.05M1214.67 691.05V730.05M1322.27 691.05V730.05M1429.58 691.05V730.05M1536.89 691.05V730.05M1644.2 691.05V730.05"/>
<text class="s yl" transform="translate(25.4,561.22) rotate(-90)">State</text>
</g>
<text class="c cap" y="808.75"><tspan x="681.2" textLength="37.5" lengthAdjust="spacingAndGlyphs">(b)</tspan> <tspan x="731.3" textLength="110" lengthAdjust="spacingAndGlyphs">sectorial</tspan> <tspan x="851.3" textLength="67.6" lengthAdjust="spacingAndGlyphs">Guhr</tspan> <tspan x="929.6" textLength="111.3" lengthAdjust="spacingAndGlyphs">matrices</tspan></text>
</svg>
</body></html>
